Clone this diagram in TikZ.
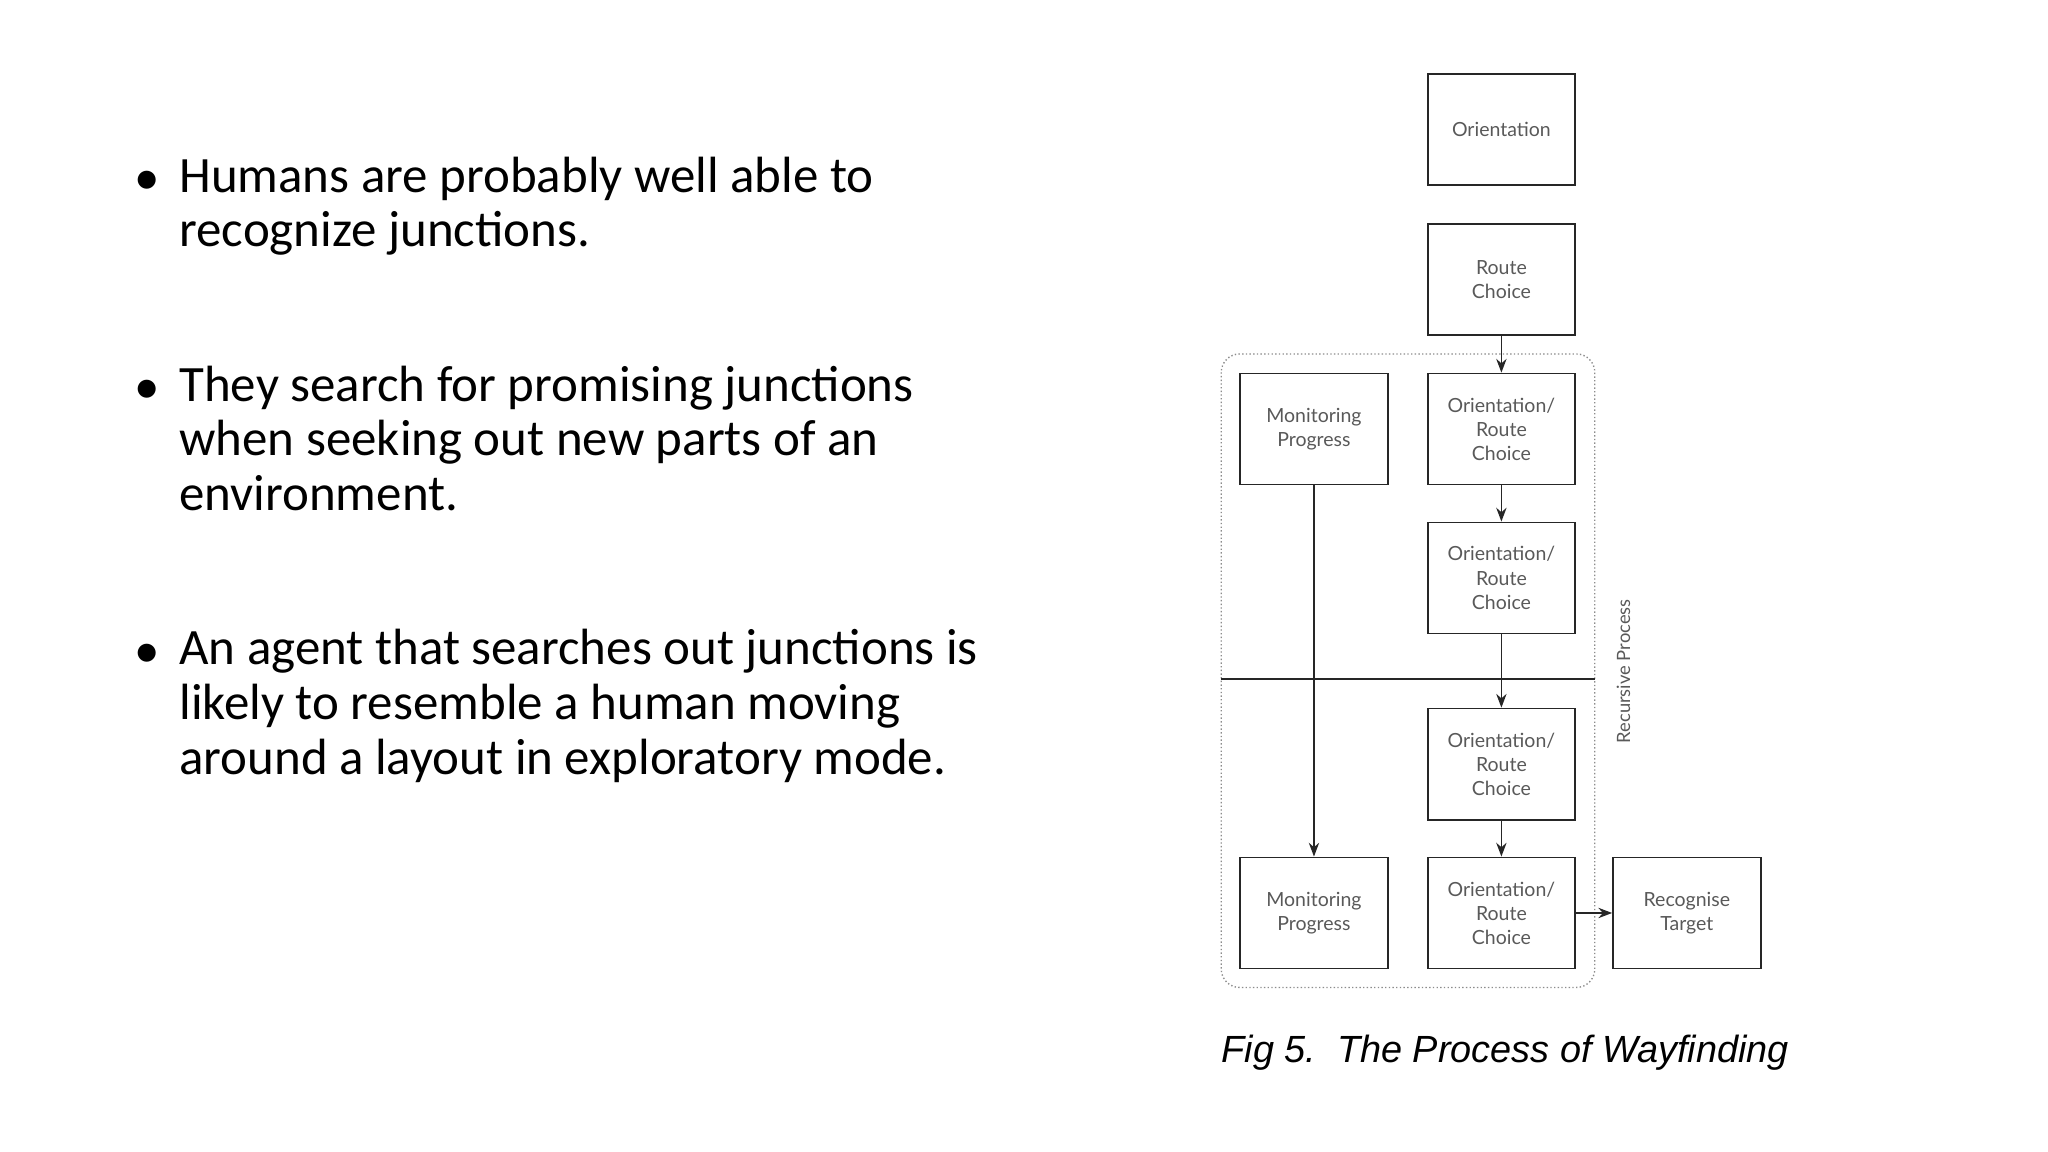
\documentclass[tikz,border=0pt]{standalone}
\usepackage{fontspec}
\setmainfont{Carlito}
\newfontfamily\boxfont{Lato}
\newfontfamily\capfont{Liberation Sans}
\usetikzlibrary{arrows.meta}
\begin{document}
\begin{tikzpicture}[x=0.02cm,y=-0.02cm,
  box/.style={draw=black!85,line width=0.8pt,minimum width=113*0.02cm,minimum height=85*0.02cm,inner sep=0pt,align=center,font=\boxfont\fontsize{8.5}{10.5}\selectfont,text=black!65},
  arr/.style={-{Stealth[length=6pt,width=4.5pt]},line width=0.7pt,black!85},
  bul/.style={anchor=north west,align=left,font=\fontsize{22.2}{23.8}\selectfont,inner sep=0pt}]
\useasboundingbox (0,0) rectangle (1568,882);
\node[bul] (b1) at (137,149-29.4) {Humans are probably well able to\\recognize junctions.};
\node[bul] (b2) at (137,309-29.4) {They search for promising junctions\\when seeking out new parts of an\\environment.};
\node[bul] (b3) at (137,511-29.4) {An agent that searches out junctions is\\likely to resemble a human moving\\around a layout in exploratory mode.};
\foreach \y/\n in {149/u1,309/u2,511/u3} \node[anchor=base,font=\fontsize{22.2}{24}\selectfont,inner sep=0pt] (\n) at (113,\y) {\textbullet};
\draw[black!45,line width=0.6pt,densely dotted,rounded corners=8pt] (935,271) rectangle (1221,756);
\draw[black!85,line width=0.7pt] (935,520) -- (1221,520);
\node[box] (o) at (1149.5,99) {Orientation};
\node[box] (rc) at (1149.5,214) {Route\\Choice};
\node[box] (mp1) at (1006,328.5) {Monitoring\\Progress};
\node[box] (or1) at (1149.5,328.5) {Orientation/\\Route\\Choice};
\node[box] (or2) at (1149.5,442.5) {Orientation/\\Route\\Choice};
\node[box] (or3) at (1149.5,585) {Orientation/\\Route\\Choice};
\node[box] (mp2) at (1006,699) {Monitoring\\Progress};
\node[box] (or4) at (1149.5,699) {Orientation/\\Route\\Choice};
\node[box] (rt) at (1291.5,699) {Recognise\\Target};
\node[rotate=90,font=\boxfont\fontsize{8}{10}\selectfont,text=black!65] (rp) at (1243,514) {Recursive Process};
\draw[arr] (rc) -- (or1);
\draw[arr] (or1) -- (or2);
\draw[arr] (or2) -- (or3);
\draw[arr] (or3) -- (or4);
\draw[arr] (mp1) -- (mp2);
\draw[arr] (or4) -- (rt);
\node[font=\capfont\itshape\fontsize{16.5}{19}\selectfont,anchor=west] (cap) at (929,806) {Fig 5.\ \ The Process of Wayfinding};
\end{tikzpicture}
\end{document}
